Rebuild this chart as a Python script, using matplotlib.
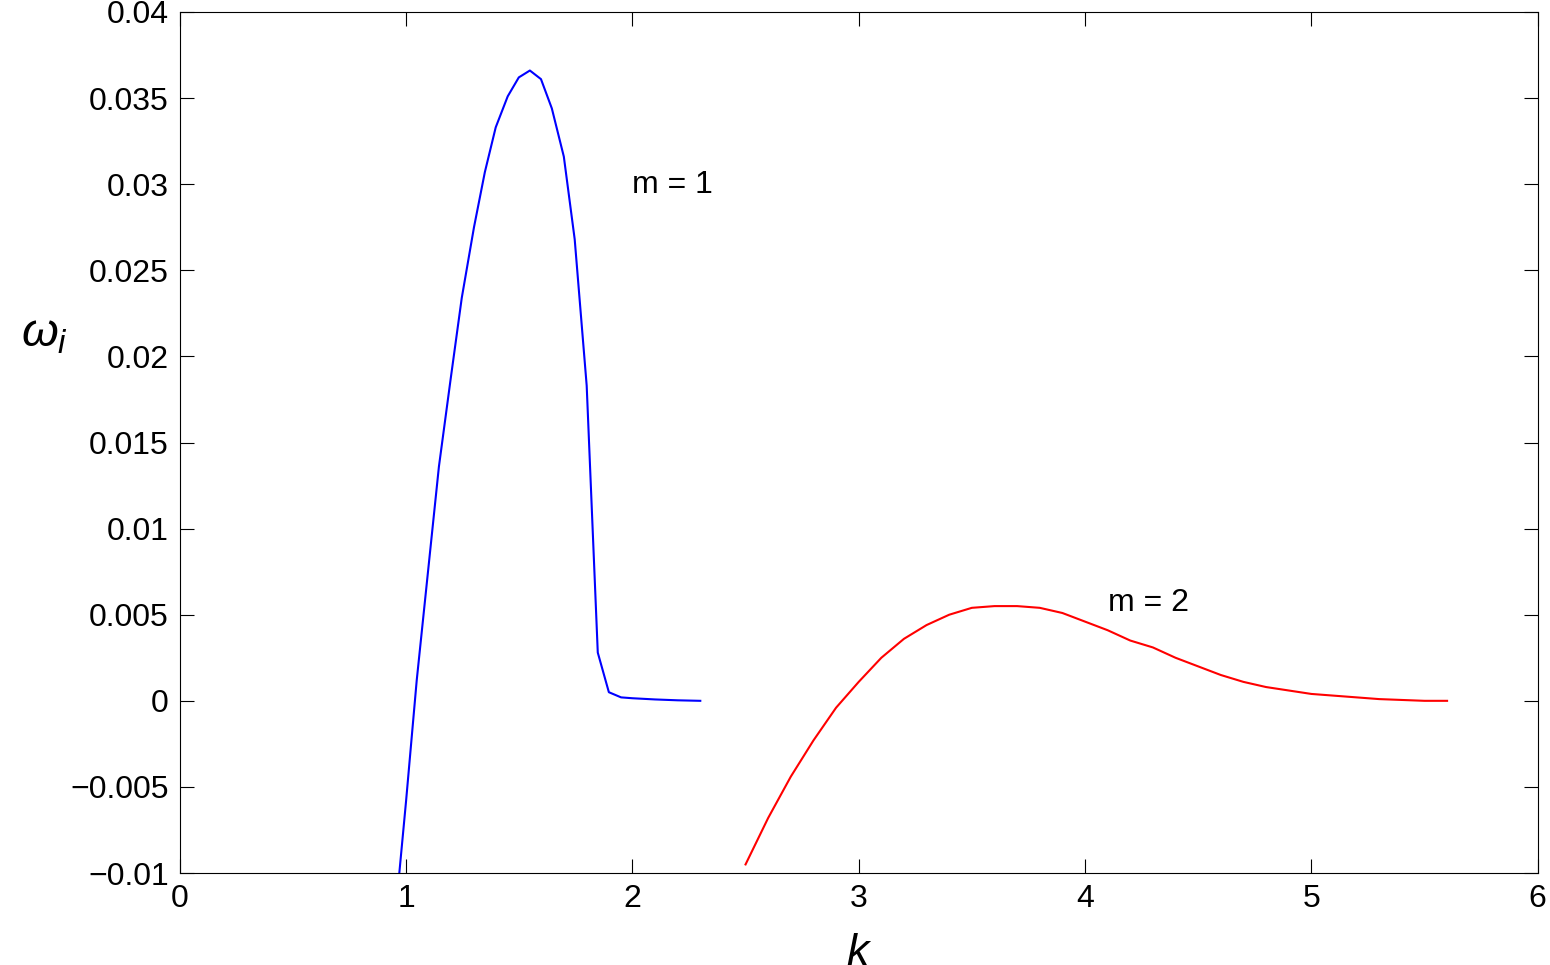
import numpy as np
import matplotlib
matplotlib.use('Agg')
import matplotlib.pyplot as plt

plt.rcParams['font.family'] = ['Liberation Sans', 'DejaVu Sans']
plt.rcParams['mathtext.fontset'] = 'custom'
plt.rcParams['mathtext.it'] = 'Liberation Sans:italic'
plt.rcParams['mathtext.rm'] = 'Liberation Sans'

# m = 1 branch
k1 = [0.97, 1.0, 1.047, 1.096, 1.145, 1.197, 1.246, 1.3, 1.348, 1.396, 1.449, 1.498,
      1.547, 1.596, 1.644, 1.697, 1.745, 1.798, 1.847, 1.896, 1.95, 2.0, 2.1, 2.2, 2.3]
w1 = [-0.01, -0.0058, 0.0012, 0.0074, 0.0136, 0.0187, 0.0234, 0.0275, 0.0307, 0.0333,
      0.0351, 0.0362, 0.0366, 0.0361, 0.0344, 0.0316, 0.0268, 0.0183, 0.0028, 0.0005,
      0.0002, 0.00015, 0.00008, 0.00003, 0.0]

# m = 2 branch
k2 = [2.5, 2.6, 2.7, 2.8, 2.9, 3.0, 3.1, 3.2, 3.3, 3.4, 3.5, 3.6, 3.7, 3.8, 3.9, 4.0,
      4.1, 4.2, 4.3, 4.4, 4.5, 4.6, 4.7, 4.8, 4.9, 5.0, 5.1, 5.2, 5.3, 5.4, 5.5, 5.6]
w2 = [-0.0095, -0.0068, -0.0044, -0.0023, -0.0004, 0.0011, 0.0025, 0.0036, 0.0044,
      0.0050, 0.0054, 0.0055, 0.0055, 0.0054, 0.0051, 0.0046, 0.0041, 0.0035, 0.0031,
      0.0025, 0.0020, 0.0015, 0.0011, 0.0008, 0.0006, 0.0004, 0.0003, 0.0002, 0.0001,
      0.00005, 0.0, 0.0]

fig = plt.figure(figsize=(15.5, 9.65), dpi=100)
ax = fig.add_axes([0.116, 0.0953, 0.876, 0.8923])
ax.plot(k1, w1, color='blue', lw=1.5)
ax.plot(k2, w2, color='red', lw=1.5)

ax.set_xlim(0, 6)
ax.set_ylim(-0.01, 0.04)
ax.set_xticks(np.arange(0, 7, 1))
yt = [-0.01, -0.005, 0, 0.005, 0.01, 0.015, 0.02, 0.025, 0.03, 0.035, 0.04]
ax.set_yticks(yt)
ax.set_yticklabels(['\u22120.01', '\u22120.005', '0', '0.005', '0.01', '0.015', '0.02',
                    '0.025', '0.03', '0.035', '0.04'])
ax.tick_params(direction='in', top=True, right=True, labelsize=23, length=10, pad=8)

ax.text(2.0, 0.0295, 'm = 1', fontsize=23)
ax.text(4.1, 0.0052, 'm = 2', fontsize=23)
ax.set_xlabel('$k$', fontsize=32, labelpad=0)
ax.xaxis.set_label_coords(0.5, -0.07)
ax.set_ylabel('$\\omega_{i}$', fontsize=34, rotation=0)
ax.yaxis.set_label_coords(-0.1, 0.6)

fig.savefig('out.png', dpi=100)
